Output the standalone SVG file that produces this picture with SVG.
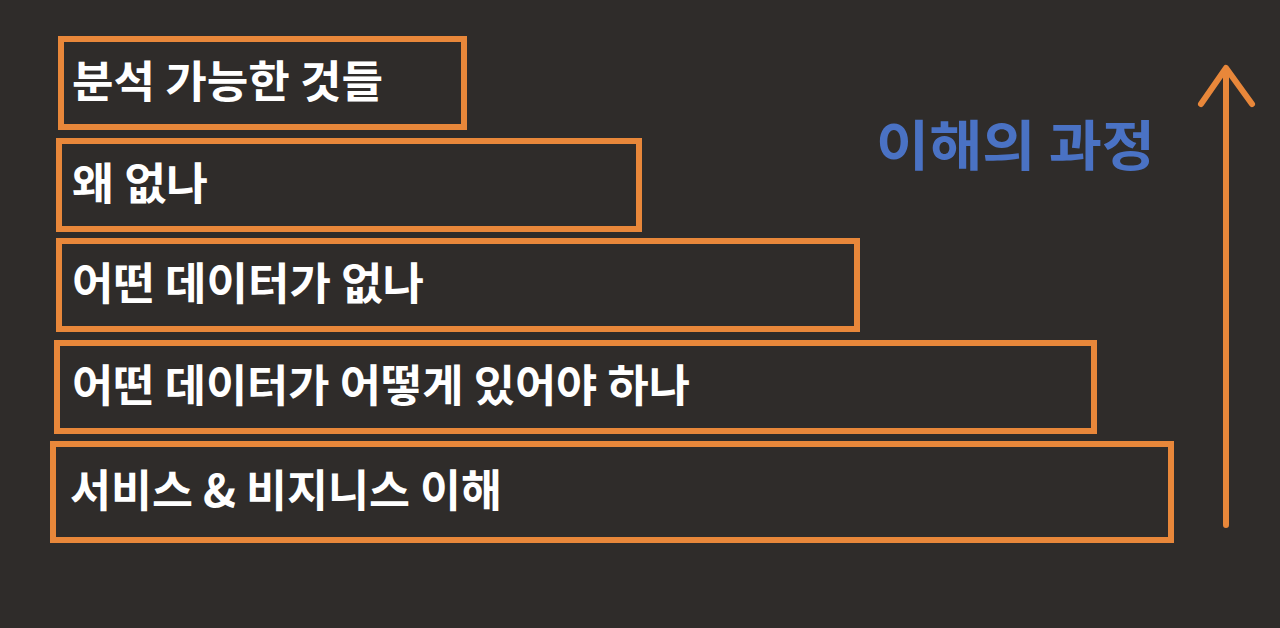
<svg xmlns="http://www.w3.org/2000/svg" width="1280" height="628" viewBox="0 0 1280 628">
<style>
.box{fill:none;stroke:#e8873a;stroke-width:6}
.t{fill:#ffffff;font-family:"Noto Sans CJK KR","Noto Sans",sans-serif;font-weight:bold;font-size:44px}
.c{fill:none;stroke:#e8873a;stroke-width:6;stroke-linecap:round;stroke-linejoin:round}
</style>
<rect width="1280" height="628" fill="#2f2c2a"/>
<g id="n1"><rect class="box" x="61" y="39" width="403" height="88"/><text class="t" x="72" y="98" textLength="311" lengthAdjust="spacingAndGlyphs">분석 가능한 것들</text></g>
<g id="n2"><rect class="box" x="59" y="141" width="580" height="88"/><text class="t" x="72" y="200" textLength="136" lengthAdjust="spacingAndGlyphs">왜 없나</text></g>
<g id="n3"><rect class="box" x="59" y="241" width="798" height="88"/><text class="t" x="72" y="300" textLength="352" lengthAdjust="spacingAndGlyphs">어떤 데이터가 없나</text></g>
<g id="n4"><rect class="box" x="57" y="343" width="1037" height="88"/><text class="t" x="72" y="402" textLength="618" lengthAdjust="spacingAndGlyphs">어떤 데이터가 어떻게 있어야 하나</text></g>
<g id="n5"><rect class="box" x="53" y="444" width="1118" height="96"/><text class="t" x="70" y="507" textLength="432" lengthAdjust="spacingAndGlyphs">서비스 &amp; 비지니스 이해</text></g>
<g id="label"><text x="876" y="166" textLength="279" lengthAdjust="spacingAndGlyphs" fill="#4a72c4" font-family="'Noto Sans CJK KR',sans-serif" font-weight="bold" font-size="54">이해의 과정</text></g>
<g id="connectors"><path class="c" d="M1226 525 L1226 70 M1201 104 L1226 68 L1252 104"/></g>
</svg>
